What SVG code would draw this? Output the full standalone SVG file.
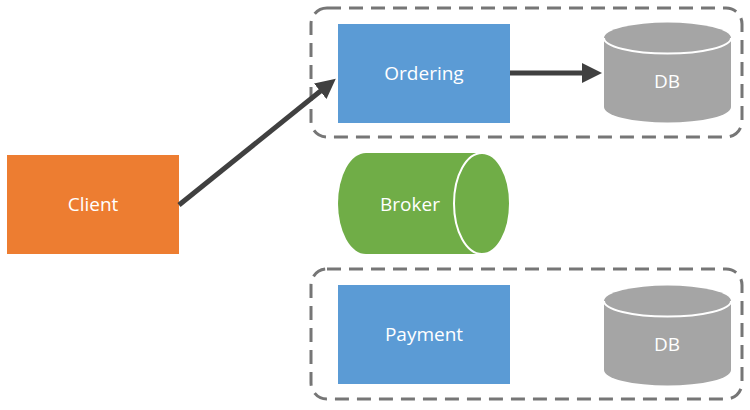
<svg xmlns="http://www.w3.org/2000/svg" width="750" height="410" viewBox="0 0 750 410">
<style>
.lbl{font-family:"Open Sans","Liberation Sans",sans-serif;font-size:19px;fill:#fff;text-anchor:middle;dominant-baseline:central}
.grp{fill:none;stroke:#767676;stroke-width:3;stroke-dasharray:14 8}
.db{fill:#a5a5a5}
.conn{stroke:#404040;stroke-width:5;fill:none;marker-end:url(#ah)}
</style>
<defs>
<marker id="ah" markerWidth="4" markerHeight="4" refX="2" refY="2" orient="auto" markerUnits="strokeWidth"><path d="M0,0 L4,2 L0,4 Z" fill="#404040"/></marker>
</defs>
<rect class="grp" x="311" y="8" width="431" height="129" rx="16"/>
<rect class="grp" x="311" y="269" width="431" height="130" rx="16"/>
<g id="client"><rect x="7" y="155" width="172" height="99" fill="#ed7d31"/><text class="lbl" x="93" y="204">Client</text></g>
<g id="ordering"><rect x="338" y="24" width="172" height="99" fill="#5b9bd5"/><text class="lbl" x="424" y="73">Ordering</text></g>
<g id="payment"><rect x="338" y="285" width="172" height="99" fill="#5b9bd5"/><text class="lbl" x="424" y="334">Payment</text></g>
<g id="db1"><path class="db" d="M604,38 A63.5,15.5 0 0 1 731,38 V107 A63.5,15.5 0 0 1 604,107 Z"/><path d="M604,38 A63.5,15.5 0 0 0 731,38" fill="none" stroke="#fff" stroke-width="2"/><text class="lbl" x="667" y="81">DB</text></g>
<g id="db2"><path class="db" d="M604,301 A63.5,15.5 0 0 1 731,301 V370 A63.5,15.5 0 0 1 604,370 Z"/><path d="M604,301 A63.5,15.5 0 0 0 731,301" fill="none" stroke="#fff" stroke-width="2"/><text class="lbl" x="667" y="344">DB</text></g>
<g id="broker"><path d="M366,153 H482 A28,50.5 0 0 1 482,254 H366 A28,50.5 0 0 1 366,153 Z" fill="#70ad47"/><ellipse cx="482" cy="203.5" rx="28" ry="50.5" fill="none" stroke="#fff" stroke-width="2"/><text class="lbl" x="410" y="204">Broker</text></g>
<g id="connectors">
<line class="conn" x1="179" y1="205" x2="328" y2="85"/>
<line class="conn" x1="510" y1="73" x2="592" y2="73"/>
</g>
</svg>
